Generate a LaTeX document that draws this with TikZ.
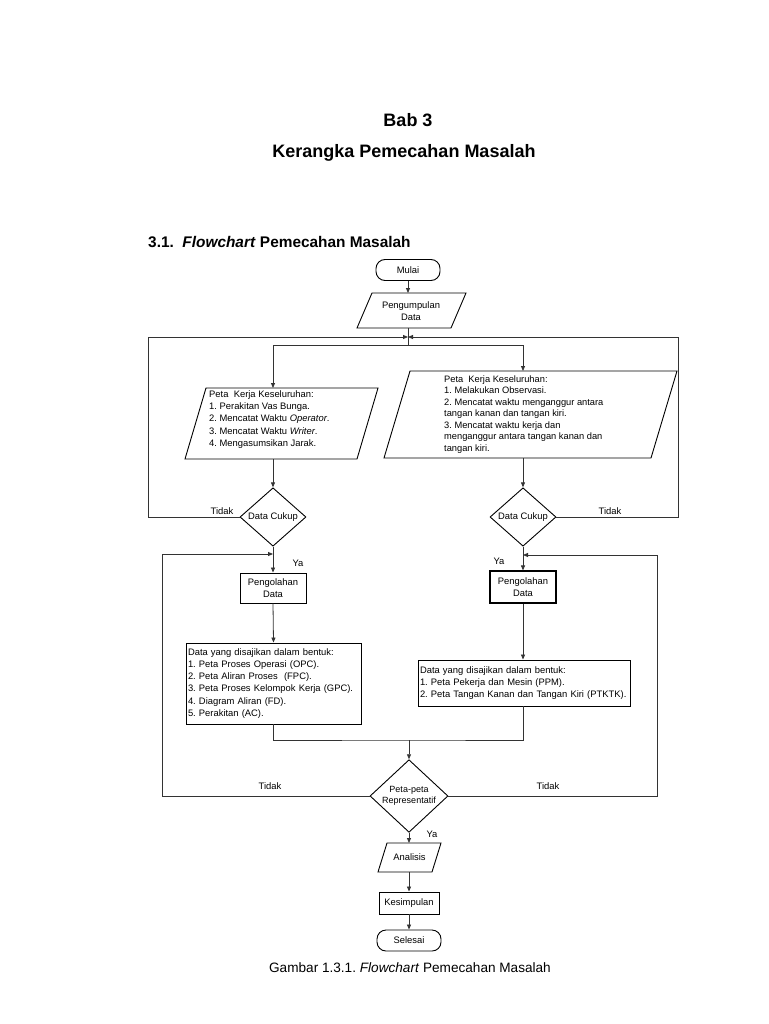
\documentclass[tikz,border=0pt]{standalone}
\usepackage{fontspec}
\setmainfont{Liberation Sans}
\usetikzlibrary{shapes.geometric,arrows.meta}
\definecolor{linec}{HTML}{333333}
\frenchspacing
\begin{document}
\begin{tikzpicture}[x=1pt,y=-1pt,
  every node/.style={font=\fontsize{9.4}{11.8}\selectfont, text=black},
  ln/.style={draw=linec, line width=0.8pt},
  arr/.style={ln, -{Triangle[length=5pt,width=4pt]}},
  shp/.style={draw=black, line width=0.9pt},
  term/.style={shp, rectangle, rounded corners=9pt, minimum width=64pt, minimum height=21pt, inner sep=0pt},
  proc/.style={shp, rectangle, inner sep=1.5pt},
  dec/.style={shp, diamond, inner sep=0pt},
  lbl/.style={inner sep=0pt},
  ttl/.style={font=\fontsize{18}{21}\selectfont\bfseries, inner sep=0pt}
]
\useasboundingbox (0,0) rectangle (768,1024);
\fill[white] (0,0) rectangle (768,1024);

% titles
\node[ttl] (bab) at (408,120) {Bab 3};
\node[ttl] (judul) at (404,153) {Kerangka Pemecahan Masalah};
\node[ttl, font=\fontsize{15.4}{18}\selectfont\bfseries, anchor=west] (sub) at (148,242) {3.1.\ \ \textit{Flowchart} Pemecahan Masalah};

% start
\node[term] (mulai) at (408,270) {Mulai};

% Pengumpulan Data (parallelogram)
\draw[shp] (357,328) -- (372,293) -- (466,293) -- (451,328) -- cycle;
\coordinate (pd-n) at (408,293);
\coordinate (pd-s) at (408,328);
\node[lbl, align=center] (pd) at (411,311) {Pengumpulan\\Data};

% left parallelogram
\draw[shp] (185,459) -- (206,388) -- (378,388) -- (357,459) -- cycle;
\coordinate (lp-n) at (273,388);
\coordinate (lp-s) at (273,459);
\node[lbl, anchor=west, align=left, font=\fontsize{9.4}{12.3}\selectfont] (lp) at (209,419.5)
 {Peta\ \ Kerja Keseluruhan:\\1. Perakitan Vas Bunga.\\2. Mencatat Waktu \textit{Operator}.\\3. Mencatat Waktu \textit{Writer}.\\4. Mengasumsikan Jarak.};

% right parallelogram
\draw[shp] (384,458) -- (410,371) -- (677,371) -- (651,458) -- cycle;
\coordinate (rp-n) at (523,371);
\coordinate (rp-s) at (523,458);
\node[lbl, anchor=west, align=left, font=\fontsize{9.3}{11.5}\selectfont] (rp) at (444,414.5)
 {Peta\ \ Kerja Keseluruhan:\\1. Melakukan Observasi.\\2. Mencatat waktu menganggur antara\\tangan kanan dan tangan kiri.\\3. Mencatat waktu kerja dan\\menganggur antara tangan kanan dan\\tangan kiri.};

% decisions
\node[dec, minimum width=66pt, minimum height=42pt] (dcl) at (273,517) {Data Cukup};
\node[dec, minimum width=66pt, minimum height=42pt] (dcr) at (523,517) {Data Cukup};

% Pengolahan Data
\node[proc, minimum width=66pt, minimum height=30pt, align=center] (pgl) at (273,588) {Pengolahan\\Data};
\node[proc, minimum width=66pt, minimum height=32pt, align=center, line width=1.1pt] (pgr) at (523,587) {Pengolahan\\Data};

% data boxes
\node[proc, minimum width=175pt, minimum height=81pt, text width=171pt, align=left, font=\fontsize{9.4}{12.1}\selectfont] (dbl) at (273.5,683.5)
 {Data yang disajikan dalam bentuk:\\1. Peta Proses Operasi (OPC).\\2. Peta Aliran Proses\ \ (FPC).\\3. Peta Proses Kelompok Kerja (GPC).\\4. Diagram Aliran (FD).\\5. Perakitan (AC).};
\node[proc, minimum width=212pt, minimum height=46pt, text width=208pt, align=left, font=\fontsize{9.4}{12}\selectfont] (dbr) at (524,683)
 {Data yang disajikan dalam bentuk:\\1. Peta Pekerja dan Mesin (PPM).\\2. Peta Tangan Kanan dan Tangan Kiri (PTKTK).};

% representative decision
\node[dec, minimum width=78pt, minimum height=50pt, align=center, font=\fontsize{9}{11}\selectfont] (rep) at (409,796) {Peta-peta\\Representatif};

% Analisis
\draw[shp] (378,872) -- (387,843) -- (441,843) -- (432,872) -- cycle;
\coordinate (an-n) at (409,843);
\coordinate (an-s) at (409,872);
\node[lbl] (an) at (409.5,857.5) {Analisis};

\node[proc, minimum width=60pt, minimum height=22pt] (kes) at (409,903) {Kesimpulan};
\node[term] (sel) at (409,940.5) {Selesai};

% caption
\node[inner sep=0pt, font=\fontsize{13.6}{16}\selectfont] (cap) at (410,968) {Gambar 1.3.1. \textit{Flowchart} Pemecahan Masalah};

% junction coordinates
\coordinate (j1) at (408,345);
\coordinate (jback) at (408,337);
\coordinate (merge) at (409,740);
\coordinate (lret) at (273,554);
\coordinate (rret) at (523,555);

% connectors
\draw[arr] (mulai) -- (pd-n);
\draw[ln] (pd-s) -- (j1);
\draw[arr] (j1) -| (lp-n);
\draw[arr] (j1) -| (rp-n);
\draw[arr] (lp-s) -- (dcl.north);
\draw[arr] (rp-s) -- (dcr.north);
\draw[arr] (dcl.west) -- (148,517) |- (jback);
\draw[arr] (dcr.east) -- (678,517) |- (jback);
\draw[arr] (dcl.south) -- (pgl.north);
\draw[arr] (dcr.south) -- (pgr.north);
\draw[arr] (pgl.south) -- (dbl.north);
\draw[arr] (pgr.south) -- (pgr.south |- dbr.north);
\draw[ln] (dbl.south) |- (merge) -| (pgr.south |- dbr.south);
\draw[arr] (merge) -- (rep.north);
\draw[arr] (rep.west) -- (162,796) |- (lret);
\draw[arr] (rep.east) -- (657,796) |- (rret);
\draw[arr] (rep.south) -- (an-n);
\draw[arr] (an-s) -- (kes.north);
\draw[arr] (kes.south) -- (sel.north);

% labels
\node[lbl] (t1) at (222,511) {Tidak};
\node[lbl] (t2) at (610,511) {Tidak};
\node[lbl] (y1) at (298,563) {Ya};
\node[lbl] (y2) at (499,561) {Ya};
\node[lbl] (t3) at (270,786) {Tidak};
\node[lbl] (t4) at (548,786) {Tidak};
\node[lbl] (y3) at (432,834) {Ya};
\end{tikzpicture}
\end{document}
